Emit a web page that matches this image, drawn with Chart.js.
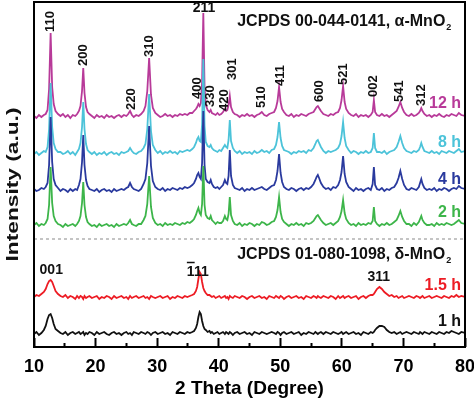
<!DOCTYPE html>
<html>
<head>
<meta charset="utf-8">
<script src="https://cdn.jsdelivr.net/npm/chart.js@4.4.0/dist/chart.umd.min.js"></script>
<style>
  html, body { margin: 0; padding: 0; background: #fff; }
  #wrap { width: 474px; height: 398px; }
</style>
</head>
<body>
<div id="wrap"><canvas id="xrd"></canvas></div>
<script>
// 2 theta grid (deg), shared by all patterns; rows line up with the intensity rows below
const twoTheta = [
  10.0, 10.4, 10.8, 11.2, 11.6, 11.9,
  12.2, 12.45, 12.7, 12.95, 13.2, 13.5, 13.9,
  14.3, 14.7, 15.1, 15.5, 15.9, 16.3, 16.7, 17.0,
  17.3, 17.55, 17.8, 18.0, 18.2, 18.45, 18.7, 19.0,
  19.4, 19.8, 20.2, 20.6, 21.0, 21.4, 21.8, 22.2, 22.6, 23.0, 23.4, 23.8, 24.2, 24.6,
  25.0, 25.3, 25.6, 25.9, 26.2, 26.6, 27.0, 27.4,
  27.8, 28.1, 28.4, 28.7, 29.0, 29.3, 29.7,
  30.1, 30.5, 30.9, 31.3, 31.7, 32.1, 32.5, 32.9, 33.3, 33.7, 34.1, 34.5, 34.9, 35.3,
  35.7, 36.0, 36.3, 36.5, 36.7, 36.9, 37.1, 37.3, 37.5, 37.7, 37.9, 38.2,
  38.5, 38.7, 38.9, 39.2, 39.5, 39.8, 40.1, 40.4, 40.7,
  41.0, 41.2, 41.4, 41.6, 41.8, 42.0, 42.3, 42.6,
  43.0, 43.4, 43.8, 44.2, 44.6, 45.0, 45.4, 45.8, 46.2, 46.6, 47.0, 47.4, 47.8, 48.2, 48.6,
  49.0, 49.3, 49.55, 49.8, 50.05, 50.3, 50.6, 51.0,
  51.4, 51.8, 52.2, 52.6, 53.0, 53.4, 53.8, 54.2, 54.6, 55.0,
  55.4, 55.7, 55.9, 56.1, 56.3, 56.6, 57.0,
  57.4, 57.8, 58.2, 58.6, 59.0, 59.4,
  59.7, 59.95, 60.2, 60.45, 60.7, 61.1,
  61.5, 61.9, 62.3, 62.7, 63.1, 63.5, 63.9, 64.3, 64.7,
  65.0, 65.2, 65.4, 65.7,
  66.1, 66.5, 66.9, 67.3, 67.7, 68.1, 68.5,
  68.9, 69.2, 69.5, 69.8, 70.1, 70.5,
  70.9, 71.3, 71.7, 72.1, 72.5,
  72.7, 72.9, 73.1, 73.4, 73.8,
  74.2, 74.6, 75.0, 75.4, 75.8, 76.2, 76.6, 77.0, 77.4, 77.8, 78.2, 78.6, 79.0, 79.4, 80.0
];

// intensities (a.u.)
const int12h = [
  1, -1, 2, 0, 2, 3,
  7, 28, 84, 30, 13, 6, 3,
  1, 3, 0, 2, -1, 2, 1, 3,
  6, 11, 26, 49, 24, 10, 5, 3,
  1, -1, 2, 0, 1, -1, 2, 0, 1, -1, 1, 2, 0, 2,
  1, 3, 6, 2, 0, 2, 1, 3,
  6, 11, 26, 59, 22, 9, 4,
  2, 0, 1, 3, 1, 2, 0, 2, 1, 3, 2, 3, 2, 4,
  4, 6, 8, 10, 13, 11, 14, 35, 104, 30, 12, 7,
  5, 7, 4, 3, 2, 4, 2, 3, 5,
  8, 6, 7, 12, 21, 10, 5, 3,
  2, 0, 2, 1, 3, 1, 2, 0, 2, 3, 5, 2, 1, 3, 4,
  5, 9, 16, 30, 15, 8, 5, 2,
  1, 3, 0, 2, 1, 3, 2, 1, 3, 4,
  5, 8, 10, 11, 9, 6, 3,
  2, 1, 3, 2, 4, 5,
  9, 17, 31, 15, 8, 4,
  2, 1, 3, 0, 2, 1, 2, 0, 2,
  5, 17, 5, 2,
  1, 3, 1, 2, 0, 2, 4,
  6, 10, 15, 9, 5, 2,
  1, 3, 1, 2, 4,
  6, 9, 6, 3, 1,
  2, 0, 2, 1, 3, 1, 0, 2, 1, 3, 2, 1, 4, 2, 1
];
const int8h = [
  0, 2, -1, 1, 3, 2,
  7, 25, 71, 27, 11, 5, 2,
  2, 0, 1, 3, 0, 2, -1, 2,
  5, 11, 27, 52, 25, 10, 4, 2,
  0, 2, -1, 1, 0, 2, -1, 1, 2, 0, 1, -1, 2, 1,
  2, 3, 6, 3, 1, 0, 2, 3,
  6, 10, 25, 60, 23, 9, 4,
  1, 3, 0, 2, 1, 3, 1, 2, 0, 3, 2, 3, 4, 3,
  5, 7, 11, 15, 17, 13, 12, 30, 95, 28, 12, 8,
  7, 9, 6, 4, 3, 2, 4, 3, 6,
  9, 7, 6, 14, 34, 13, 6, 3,
  1, 3, 0, 2, 1, 2, 0, 3, 1, 2, 4, 2, 3, 1, 4,
  5, 9, 17, 32, 16, 8, 4, 3,
  2, 0, 2, 1, 3, 2, 3, 1, 4, 3,
  6, 10, 13, 14, 11, 7, 3,
  1, 3, 2, 3, 4, 6,
  10, 18, 32, 16, 8, 4,
  1, 3, 2, 0, 2, 1, 3, 1, 2,
  6, 21, 6, 2,
  2, 1, 3, 0, 2, 3, 4,
  7, 12, 18, 11, 6, 3,
  2, 1, 3, 2, 4,
  7, 11, 7, 3, 2,
  1, 3, 1, 2, 0, 3, 2, 1, 3, 2, 1, 3, 5, 2, 3
];
const int4h = [
  2, 0, 1, 3, 2, 4,
  8, 26, 74, 29, 12, 6, 3,
  0, 2, 1, -1, 2, 0, 2, 1,
  6, 12, 29, 56, 26, 11, 5, 2,
  1, 0, 2, -1, 1, 2, 0, 1, -1, 2, 0, 1, 2, 1,
  3, 4, 8, 4, 2, 1, 0, 2,
  7, 12, 28, 65, 25, 10, 4,
  2, 1, 3, 0, 2, 1, 3, 2, 1, 3, 2, 4, 3, 4,
  6, 8, 12, 16, 18, 14, 12, 28, 80, 26, 12, 9,
  8, 11, 7, 4, 3, 4, 2, 4, 6,
  11, 8, 7, 15, 41, 15, 6, 3,
  2, 1, 3, 0, 2, 1, 3, 1, 2, 3, 4, 2, 1, 3, 5,
  6, 11, 20, 37, 18, 9, 4, 2,
  1, 3, 2, 0, 2, 3, 1, 3, 2, 4,
  7, 11, 14, 16, 13, 8, 4,
  2, 3, 1, 4, 3, 6,
  11, 19, 35, 17, 9, 4,
  2, 0, 3, 1, 2, 0, 2, 3, 1,
  7, 24, 6, 2,
  1, 3, 0, 2, 1, 3, 4,
  8, 13, 20, 12, 6, 2,
  1, 3, 2, 1, 4,
  8, 12, 7, 3, 1,
  2, 1, 3, 0, 2, 1, 3, 2, 0, 2, 3, 2, 5, 3, 2
];
const int2h = [
  1, 3, 0, 2, 1, 3,
  7, 21, 59, 23, 10, 5, 2,
  1, -1, 2, 0, 1, 2, 0, 2,
  5, 10, 23, 44, 21, 9, 4, 2,
  0, 1, -1, 2, 0, 1, 2, 0, 1, -1, 2, 0, 1, 2,
  1, 3, 6, 2, 1, 0, 2, 2,
  6, 10, 22, 50, 19, 8, 3,
  1, 2, 0, 3, 1, 2, 1, 3, 2, 1, 3, 2, 4, 3,
  5, 7, 11, 15, 18, 13, 11, 22, 60, 21, 11, 8,
  7, 10, 6, 4, 2, 4, 3, 3, 5,
  10, 7, 6, 12, 29, 11, 5, 2,
  1, 3, 0, 2, 1, 3, 2, 0, 2, 1, 4, 3, 1, 2, 4,
  5, 9, 16, 29, 14, 7, 4, 2,
  0, 2, 1, 3, 1, 2, 0, 3, 2, 3,
  5, 8, 10, 11, 9, 6, 3,
  1, 2, 3, 1, 3, 5,
  9, 15, 26, 13, 7, 3,
  1, 2, 0, 3, 1, 2, 1, 3, 2,
  5, 19, 5, 2,
  0, 2, 1, 3, 1, 2, 4,
  6, 10, 15, 9, 5, 2,
  2, 0, 3, 1, 4,
  7, 10, 6, 3, 1,
  1, 2, 0, 3, 1, 2, 1, 3, 2, 1, 2, 4, 6, 3, 2
];
const int1p5h = [
  1, 3, 2, 4, 6, 9,
  14, 17, 18, 16, 12, 7, 4,
  2, 1, 3, 0, 2, 1, -1, 2,
  0, 2, 1, -1, 2, 0, 1, 2,
  0, 1, 2, -1, 1, 0, 2, 1, -1, 2, 0, 1, 2, 0,
  1, -1, 2, 0, 1, 2, 0, 1,
  2, 0, 1, -1, 2, 1, 0,
  1, 2, 0, 1, 2, -1, 1, 0, 2, 1, 0, 2, 1, 2,
  3, 4, 7, 11, 19, 26, 24, 16, 10, 7, 5, 3,
  3, 2, 1, 2, 0, 1, 2, 0, 1,
  2, 0, 1, -1, 2, 1, 0, 2,
  1, 0, 2, 1, -1, 1, 2, 0, 1, 2, 0, 1, -1, 2, 1,
  0, 2, 1, 0, 2, 1, -1, 1,
  2, 0, 1, 2, 0, 1, -1, 2, 1, 0,
  2, 1, 0, 2, 1, 0, 2,
  1, 0, 2, 1, -1, 2,
  0, 1, 2, 0, 1, 2,
  0, 1, 2, -1, 1, 2, 0, 2, 3,
  3, 4, 6, 9,
  11, 9, 6, 4, 2, 3, 1,
  2, 0, 1, 2, 0, 1,
  2, 1, 0, 2, 1,
  0, 1, 2, 0, 1,
  2, 0, 1, 2, 1, 0, 2, 1, 0, 2, 1, 3, 1, 2, 1
];
const int1h = [
  0, 2, -1, 1, 4, 8,
  15, 19, 20, 16, 10, 5, 3,
  1, 0, 2, -1, 1, 2, 0, 1,
  2, 0, 1, 2, -1, 1, 0, 2,
  1, -1, 2, 0, 1, 2, 0, -1, 1, 2, 0, 1, -1, 1,
  2, 0, 1, -1, 2, 1, 0, 2,
  1, 0, 2, 1, -1, 1, 2,
  0, 1, 2, 0, 1, -1, 2, 1, 0, 2, 1, 0, 2, 1,
  2, 3, 6, 10, 17, 22, 20, 13, 8, 5, 4, 2,
  3, 1, 2, 0, 1, 2, 0, 1, 2,
  0, 2, 1, 0, 2, 1, -1, 1,
  2, 0, 1, 2, 0, 1, -1, 2, 1, 0, 2, 1, 0, 1, 2,
  1, 0, 2, 1, -1, 1, 2, 0,
  1, 2, 0, 1, 2, -1, 1, 0, 2, 1,
  0, 2, 1, 0, 1, 2, 0,
  2, 1, 0, 2, 1, 0,
  1, 2, 0, 1, 2, 0,
  1, 2, 0, 1, -1, 2, 1, 0, 2,
  1, 2, 4, 6,
  8, 8, 7, 4, 2, 1, 2,
  0, 1, 2, 0, 1, 2,
  1, 0, 2, 1, 0,
  2, 1, 0, 2, 1,
  0, 2, 1, 0, 2, 1, 0, 2, 1, 3, 2, 1, 0, 2, 1
];

const sampleNames = ['12 h', '8 h', '4 h', '2 h', '1.5 h', '1 h'];
const sampleOffsets = [230, 193, 156, 121, 49, 13];
const sampleColors = ['#b83a99', '#4cc3d9', '#2a3a9e', '#3db54a', '#ed1c24', '#111111'];
const samples = [int12h, int8h, int4h, int2h, int1p5h, int1h];

// reflection labels: [text, 2theta, intensity level where the label starts]
const alphaHkl = [
  ['110', 12.6, 315], ['200', 18.1, 281], ['220', 25.75, 237], ['310', 28.8, 290],
  ['400', 36.5, 248], ['330', 38.6, 240], ['420', 40.9, 236], ['301', 42.2, 267],
  ['510', 47.0, 239], ['411', 50.0, 261], ['600', 56.3, 245], ['521', 60.3, 262],
  ['002', 65.2, 250], ['541', 69.4, 245], ['312', 73.0, 241]
];
const separatorLevel = 108;
const nameLevels = [243, 204, 167, 134, 61, 25];

const FONT = '"Liberation Sans", Arial, sans-serif';

const decor = {
  id: 'decor',
  afterDraw(chart) {
    const { ctx, chartArea: a, scales: { x, y } } = chart;
    ctx.save();

    // dashed separator between alpha and delta patterns
    const sy = y.getPixelForValue(separatorLevel);
    ctx.strokeStyle = '#8a8a8a';
    ctx.lineWidth = 1.2;
    ctx.setLineDash([3, 3]);
    ctx.beginPath();
    ctx.moveTo(a.left, sy);
    ctx.lineTo(a.right, sy);
    ctx.stroke();
    ctx.setLineDash([]);

    // frame
    ctx.strokeStyle = '#000';
    ctx.lineWidth = 2;
    ctx.strokeRect(a.left, a.top, a.right - a.left, a.bottom - a.top);

    // rotated hkl labels
    ctx.fillStyle = '#111';
    ctx.font = 'bold 13px ' + FONT;
    ctx.textAlign = 'left';
    ctx.textBaseline = 'middle';
    alphaHkl.forEach(([t, tt, v]) => {
      ctx.save();
      ctx.translate(x.getPixelForValue(tt), y.getPixelForValue(v));
      ctx.rotate(-Math.PI / 2);
      ctx.fillText(t, 0, 0);
      ctx.restore();
    });

    // horizontal labels
    ctx.textAlign = 'center';
    ctx.font = 'bold 14px ' + FONT;
    ctx.fillText('211', x.getPixelForValue(37.6), y.getPixelForValue(339));
    ctx.fillText('001', x.getPixelForValue(12.8), y.getPixelForValue(77));
    ctx.fillText('311', x.getPixelForValue(66.0), y.getPixelForValue(70));
    const bx = x.getPixelForValue(36.6), by = y.getPixelForValue(75);
    ctx.fillText('111', bx, by);
    const w = ctx.measureText('111').width, w1 = ctx.measureText('1').width;
    ctx.lineWidth = 1.5;
    ctx.strokeStyle = '#111';
    ctx.beginPath();
    ctx.moveTo(bx - w / 2, by - 9.5);
    ctx.lineTo(bx - w / 2 + w1, by - 9.5);
    ctx.stroke();

    // reference cards
    const card = (text, tt, v) => {
      const px = x.getPixelForValue(tt), py = y.getPixelForValue(v);
      ctx.textAlign = 'left';
      ctx.font = 'bold 16px ' + FONT;
      ctx.fillText(text, px, py);
      const tw = ctx.measureText(text).width;
      ctx.font = 'bold 9px ' + FONT;
      ctx.fillText('2', px + tw + 1, py + 6);
    };
    card('JCPDS 00-044-0141, \u03b1-MnO', 43.0, 325);
    card('JCPDS 01-080-1098, \u03b4-MnO', 43.0, 92);

    // sample names
    ctx.textAlign = 'right';
    ctx.font = 'bold 16px ' + FONT;
    sampleNames.forEach((n, i) => {
      ctx.fillStyle = sampleColors[i];
      ctx.fillText(n, a.right - 4, y.getPixelForValue(nameLevels[i]));
    });

    // y axis title (stretched like the original)
    ctx.fillStyle = '#111';
    ctx.translate(18, (a.top + a.bottom) / 2 + 10);
    ctx.rotate(-Math.PI / 2);
    ctx.scale(1.42, 1);
    ctx.textAlign = 'center';
    ctx.textBaseline = 'alphabetic';
    ctx.font = 'bold 16px ' + FONT;
    ctx.fillText('Intensity (a.u.)', 0, 0);
    ctx.restore();
  }
};

const datasets = samples.map((vals, i) => ({
  label: sampleNames[i],
  data: twoTheta.map((t, k) => ({ x: t, y: sampleOffsets[i] + vals[k] })),
  borderColor: sampleColors[i],
  borderWidth: 1.8,
  pointRadius: 0,
  tension: 0,
  fill: false,
  order: i < 4 ? 4 - i : 1
}));

new Chart(document.getElementById('xrd').getContext('2d'), {
  type: 'line',
  data: { datasets },
  options: {
    responsive: true,
    maintainAspectRatio: false,
    animation: false,
    layout: { padding: { left: 34, right: 9, top: 2, bottom: 0 } },
    plugins: { legend: { display: false }, tooltip: { enabled: false } },
    scales: {
      x: {
        type: 'linear',
        min: 10,
        max: 80,
        border: { display: false },
        grid: {
          drawOnChartArea: false,
          drawTicks: true,
          tickLength: -9,
          tickWidth: 2,
          tickColor: '#000',
          tickBorderDash: (c) => (c.tick && c.tick.value % 10 === 0 ? [] : [4, 20])
        },
        ticks: {
          stepSize: 5,
          autoSkip: false,
          maxRotation: 0,
          padding: 18,
          color: '#000',
          font: { family: FONT, size: 18, weight: 'bold' },
          callback: (v) => (v % 10 === 0 ? v : '')
        },
        title: {
          display: true,
          text: '2 Theta (Degree)',
          color: '#000',
          font: { family: FONT, size: 19, weight: 'bold' },
          padding: { top: 0, bottom: -2 }
        },
        afterFit: (s) => { s.height = 51; s.paddingLeft = 0; s.paddingRight = 0; }
      },
      y: { display: false, min: 0, max: 345 }
    }
  },
  plugins: [decor]
});
</script>
</body>
</html>
